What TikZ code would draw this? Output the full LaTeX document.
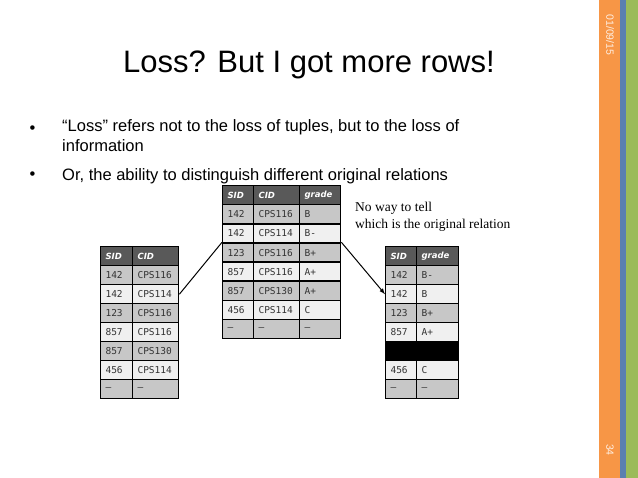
\documentclass[tikz,border=0pt]{standalone}
\usepackage{fontspec}
\setmainfont{Liberation Sans}
\setsansfont{DejaVu Sans}
\newfontfamily\cellfont{DejaVu Sans Mono}
\newfontfamily\notefont{Liberation Serif}
\definecolor{barO}{HTML}{F79646}
\definecolor{barB}{HTML}{5A80B0}
\definecolor{barG}{HTML}{9BBB59}
\begin{document}
\begin{tikzpicture}[x=1pt,y=-1pt,
  hdr/.style={draw=black,line width=1.4pt,fill=black!65,anchor=north west,inner sep=0pt},
  cellA/.style={draw=black,line width=1.4pt,fill=black!22,anchor=north west,inner sep=0pt},
  cellB/.style={cellA,fill=black!6},
  cellK/.style={cellA,fill=black},
  htxt/.style={anchor=west,text=white,font=\sffamily\bfseries\itshape\fontsize{8.5}{10}\selectfont},
  ctxt/.style={anchor=west,text=black!80,font=\cellfont\fontsize{9.5}{10}\selectfont},
  bul/.style={anchor=west,font=\fontsize{16.5}{20}\selectfont},
  link/.style={line width=1pt}]
\useasboundingbox (0,0) rectangle (638,478);
\fill[white] (0,0) rectangle (638,478);
% side bar
\fill[barO] (599,0) rectangle (620,478);
\fill[barB] (620,0) rectangle (626,478);
\fill[barG] (626,0) rectangle (638,478);
\node[rotate=-90,text=white!85!barO,font=\fontsize{10.5}{11}\selectfont] (date) at (610,35) {01/09/15};
\node[rotate=-90,text=white!85!barO,font=\fontsize{10.5}{11}\selectfont] (pg) at (610,450) {34};
% title
\node[font=\fontsize{31}{35}\selectfont] (title) at (309,65) {Loss? But I got more rows!};
\node[bul] (b1) at (26,130) {•};
\node[bul,anchor=north west,align=left,inner sep=0pt] (t1) at (62,119) {“Loss” refers not to the loss of tuples, but to the loss of\\information};
\node[bul] (b2) at (26,176) {•};
\node[bul,inner sep=0pt] (t2) at (62,176) {Or, the ability to distinguish different original relations};
% middle table
\foreach \r/\a/\b [count=\i from 0] in {SID/CID/grade,142/CPS116/B,142/CPS114/B-,123/CPS116/B+,857/CPS116/A+,857/CPS130/A+,456/CPS114/C,–/–/–}{
  \pgfmathsetmacro\yy{185+\i*19.1}
  \pgfmathtruncatemacro\odd{mod(\i,2)}
  \ifnum\i=0 \def\st{hdr}\def\tsty{htxt}\else\def\tsty{ctxt}\ifnum\odd=1 \def\st{cellA}\else\def\st{cellB}\fi\fi
  \node[\st,minimum width=31pt,minimum height=19.1pt] (m\i a) at (222,\yy) {};
  \node[\st,minimum width=46pt,minimum height=19.1pt] (m\i b) at (253,\yy) {};
  \node[\st,minimum width=41pt,minimum height=19.1pt] (m\i c) at (299,\yy) {};
  \node[\tsty] at ([xshift=2pt]m\i a.west) {\r};
  \node[\tsty] at ([xshift=2pt]m\i b.west) {\a};
  \node[\tsty] at ([xshift=2pt]m\i c.west) {\b};
}
% left table
\foreach \r/\a [count=\i from 0] in {SID/CID,142/CPS116,142/CPS114,123/CPS116,857/CPS116,857/CPS130,456/CPS114,–/–}{
  \pgfmathsetmacro\yy{246+\i*19}
  \pgfmathtruncatemacro\odd{mod(\i,2)}
  \ifnum\i=0 \def\st{hdr}\def\tsty{htxt}\else\def\tsty{ctxt}\ifnum\odd=1 \def\st{cellA}\else\def\st{cellB}\fi\fi
  \node[\st,minimum width=32pt,minimum height=19pt] (l\i a) at (100,\yy) {};
  \node[\st,minimum width=46pt,minimum height=19pt] (l\i b) at (132,\yy) {};
  \node[\tsty] at ([xshift=2pt]l\i a.west) {\r};
  \node[\tsty] at ([xshift=2pt]l\i b.west) {\a};
}
% right table
\foreach \r/\a [count=\i from 0] in {SID/grade,142/B-,142/B,123/B+,857/A+,{}/{},456/C,–/–}{
  \pgfmathsetmacro\yy{246+\i*19}
  \pgfmathtruncatemacro\odd{mod(\i,2)}
  \ifnum\i=0 \def\st{hdr}\def\tsty{htxt}\else\def\tsty{ctxt}\ifnum\i=5 \def\st{cellK}\else\ifnum\odd=1 \def\st{cellA}\else\def\st{cellB}\fi\fi\fi
  \node[\st,minimum width=31pt,minimum height=19pt] (r\i a) at (385,\yy) {};
  \node[\st,minimum width=42pt,minimum height=19pt] (r\i b) at (416,\yy) {};
  \node[\tsty] at ([xshift=2pt]r\i a.west) {\r};
  \node[\tsty] at ([xshift=2pt]r\i b.west) {\a};
}
\node[anchor=north west,font=\notefont\fontsize{13.5}{17}\selectfont,align=left,inner sep=0pt] (note) at (355,202) {No way to tell\\which is the original relation};
\draw[link] (l2b.east) -- (m3a.north west);
\draw[link,-latex] (m3c.north east) -- (r2a.west);
\end{tikzpicture}
\end{document}
